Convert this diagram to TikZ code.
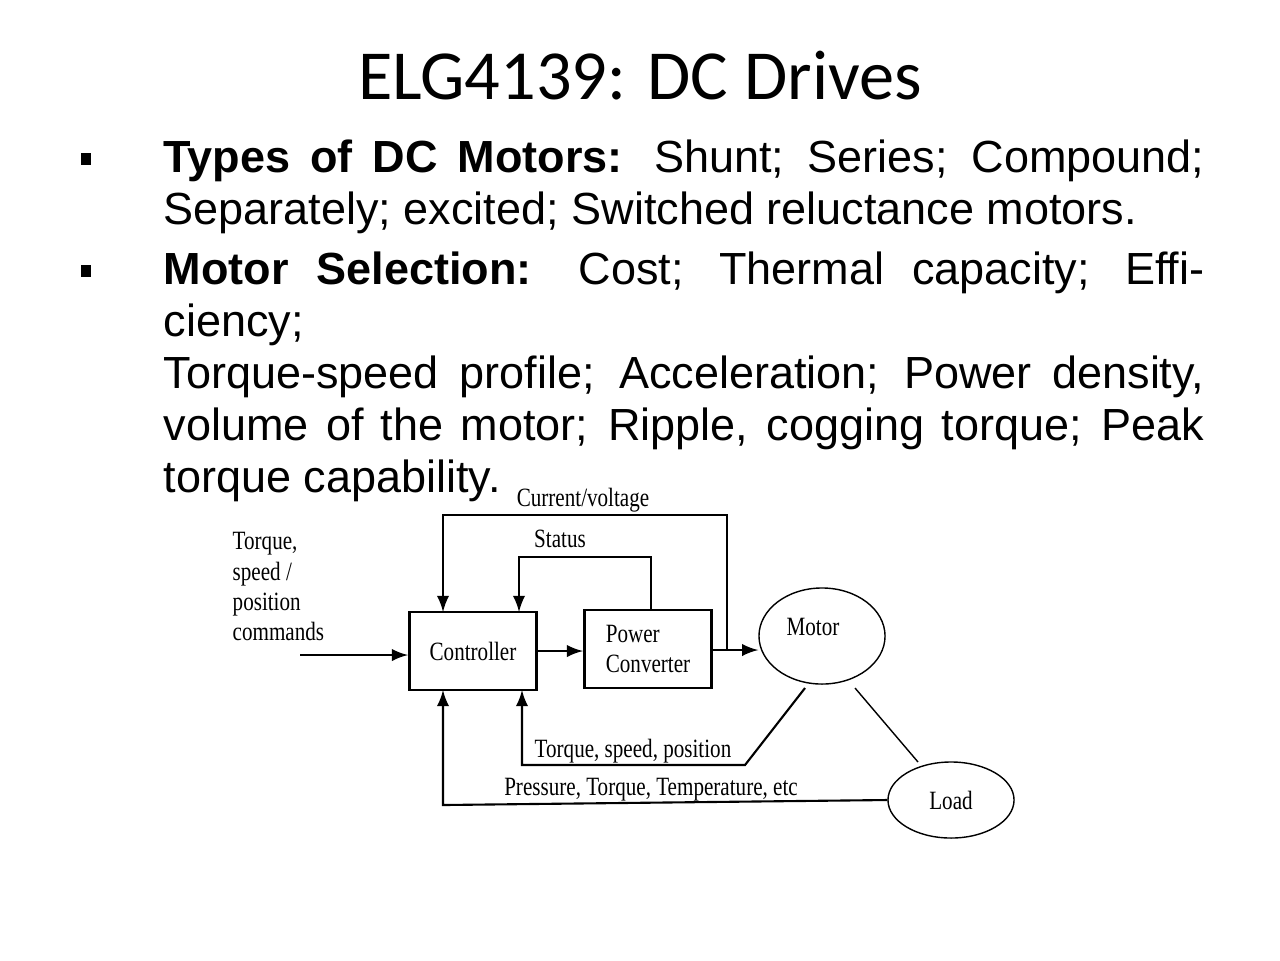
\documentclass[tikz,border=0pt]{standalone}
\usepackage{fontspec}
\setmainfont{Liberation Serif}
\newfontfamily\titlefont{Carlito}
\newfontfamily\bodyfont{Liberation Sans}
\newfontfamily\diagfont[FakeStretch=0.8]{Liberation Serif}
\usetikzlibrary{positioning, shapes.geometric}
\tikzset{
  font=\diagfont\fontsize{7.5}{8.6}\selectfont,
  block/.style = {
    draw,
    thick,
    minimum width=1.27cm,
    minimum height=0.78cm,
    inner sep=0pt
  },
  blob/.style = {
    draw,
    ellipse,
    inner sep=0pt
  },
  para/.style = {
    anchor=north west,
    text width=10.4cm,
    align=justify,
    inner sep=0pt,
    font=\bodyfont\fontsize{12.8}{14.8}\selectfont
  },
  flow/.style = {->, >=latex, semithick},
  lbl/.style = {inner sep=1pt}
}
\begin{document}
\begin{tikzpicture}[x=0.01cm,y=-0.01cm]
  \useasboundingbox (0,0) rectangle (1280,960);

  % title and bullets
  \node (title) at (640,76) {\titlefont\fontsize{20}{24}\selectfont ELG4139: DC Drives};
  \node[para] (types) at (163,139)
    {\textbf{Types of DC Motors:} Shunt; Series; Compound;\linebreak Separately; excited; Switched reluctance motors.};
  \node[para] (select) at (163,251)
    {\textbf{Motor Selection:} Cost; Thermal capacity; Efficiency;\linebreak Torque-speed profile; Acceleration; Power density,\linebreak volume of the motor; Ripple, cogging torque; Peak\linebreak torque capability.};
  \fill (81,153) rectangle (91,165);
  \fill (81,265) rectangle (91,277);

  % blocks
  \node[block] (ctrl) at (473,651) {Controller};
  \node[block, align=left] (conv) at (648,649) {Power\\Converter};
  \node[blob, minimum width=1.26cm, minimum height=0.96cm] (motor) at (822,636) {};
  \node at (813,627) {Motor};
  \node[blob, minimum width=1.26cm, minimum height=0.76cm] (load) at (951,800) {Load};

  \node[align=left, anchor=north west, inner sep=0pt] (cmd) at (232,532) {Torque,\\speed /\\position\\commands};
  \coordinate (in) at (300,655);

  % forward path
  \draw[flow] (in) -- (ctrl.west |- in);
  \draw[flow] (ctrl.east |- 0,651) -- (conv.west |- 0,651);
  \draw[flow] (conv.east |- 0,650) -- (motor.west |- 0,650);

  % feedback loops
  \coordinate (cv) at (727,650);
  \draw[flow] (cv) -- (727,515) -- (443,515) -- (443,612);
  \node[lbl] at (583,500) {Current/voltage};
  \draw[flow] (651,610) -- (651,557) -- (519,557) -- (519,612);
  \node[lbl] at (560,539) {Status};
  \draw[flow] (805,688) -- (745,765) -- (522,765) -- (522,690);
  \node[lbl] at (633,751) {Torque, speed, position};
  \draw[flow] (load.west) -- (443,805) -- (443,690);
  \node[lbl] at (651,790) {Pressure, Torque, Temperature, etc};
  \draw (855,688) -- (918,762);
\end{tikzpicture}
\end{document}
